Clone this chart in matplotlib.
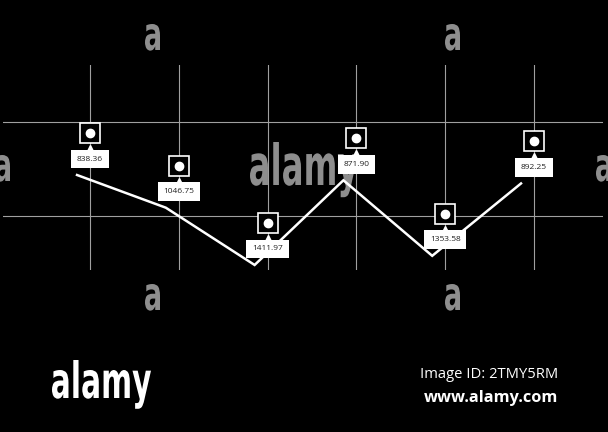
import matplotlib
matplotlib.use('Agg')
import matplotlib.pyplot as plt
import numpy as np
from matplotlib.transforms import offset_copy, Affine2D
from matplotlib.textpath import TextPath
from matplotlib.patches import PathPatch
from matplotlib.font_manager import FontProperties

# data
values = [838.36, 1046.75, 1411.97, 871.90, 1353.58, 892.25]
labels = ['838.36', '1046.75', '1411.97', '871.90', '1353.58', '892.25']
grid_y = [500, 1100]

W, H = 608, 432
fig = plt.figure(figsize=(W / 100, H / 100), dpi=100, facecolor='black')
ax = fig.add_axes([3 / W, 1 - 270 / H, 600 / W, 205 / H])
ax.set_facecolor('none')

x = np.arange(len(values))
ax.set_xlim(-0.98, 5.777)
ax.set_ylim(1444, 137)  # inverted: larger values lower
ax.axis('off')

for gy in grid_y:
    ax.axhline(gy, color='#a0a0a0', lw=0.8, zorder=1)
for gx in x:
    ax.axvline(gx, color='#a0a0a0', lw=0.8, zorder=1)

# line is drawn a bit left of the markers
line_tr = offset_copy(ax.transData, fig=fig, x=-13, y=0, units='dots')
ax.plot(x, values, color='white', lw=1.8, transform=line_tr, zorder=3,
        solid_joinstyle='miter')

mark_tr = offset_copy(ax.transData, fig=fig, x=0, y=42, units='dots')
ax.plot(x, values, 's', ms=15, mfc='black', mec='white', mew=1.2,
        transform=mark_tr, zorder=4)
ax.plot(x, values, 'o', ms=6, color='white', transform=mark_tr, zorder=5)

tri_tr = offset_copy(ax.transData, fig=fig, x=0, y=27, units='dots')
ax.plot(x, values, '^', ms=4, color='white', transform=tri_tr, zorder=4)

lab_tr = offset_copy(ax.transData, fig=fig, x=0, y=16, units='dots')
for xi, v, t in zip(x, values, labels):
    ax.text(xi, v, t, transform=lab_tr, ha='center', va='center',
            fontsize=6, family='Open Sans', color='#222222', zorder=6,
            bbox=dict(boxstyle='square,pad=0.7', fc='white', ec='none'))


def stamp(text, x0, base, width, asc, color, z):
    prop = FontProperties(family='DejaVu Sans', weight='bold')
    tp = TextPath((0, 0), text, size=100, prop=prop)
    ext = tp.get_extents()
    tr = (Affine2D().translate(-ext.x0, 0)
          .scale(width / ext.width, asc / ext.y1)
          .translate(x0, H - base)
          .scale(1 / W, 1 / H) + fig.transFigure)
    fig.add_artist(PathPatch(tp, transform=tr, fc=color, ec='none', zorder=z))


wm = '#8e8e8e'
stamp('alamy', 250, 185, 108, 43, wm, -1)
for ax0, base in [(145, 50), (445, 50), (145, 310), (445, 310), (-5, 181), (596, 181)]:
    stamp('a', ax0, base, 15, 26, wm, -1)

stamp('alamy', 52, 398, 99, 38, 'white', 10)
fig.text(558 / W, 1 - 374 / H, 'Image ID: 2TMY5RM', color='white',
         fontsize=10.6, family='Open Sans', ha='right', va='center')
fig.text(558 / W, 1 - 398 / H, 'www.alamy.com', color='white',
         fontsize=11.8, family='Open Sans', weight='bold', ha='right', va='center')

fig.savefig('out.png', dpi=100, facecolor='black')
